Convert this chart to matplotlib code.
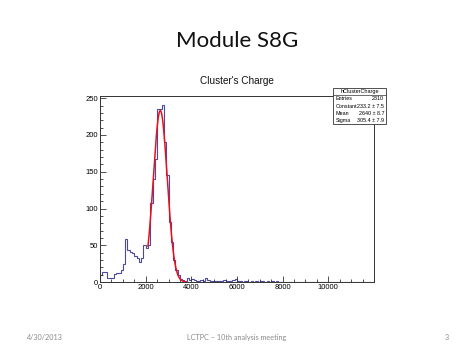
import numpy as np
import matplotlib
matplotlib.use("Agg")
import matplotlib.pyplot as plt
from matplotlib.patches import Rectangle
from matplotlib.ticker import MultipleLocator, FixedFormatter

# histogram: 120 bins of 100 from 0 to 12000 (only non-empty head listed, rest zero)
BIN_WIDTH = 100
N_BINS = 120
COUNTS_HEAD = [
    9, 13, 13, 6, 5, 6, 11, 12, 12, 16,
    25, 58, 43, 41, 40, 36, 32, 27, 32, 50,
    46, 50, 108, 140, 168, 236, 236, 241, 190, 145,
    82, 55, 30, 17, 9, 4, 3, 2, 5, 3,
    4, 3, 1, 2, 3, 2, 5, 3, 2, 1,
    2, 1, 2, 1, 3, 1, 2, 1, 3, 4,
    2, 1, 0, 1, 2, 0, 1, 0, 1, 0,
    1, 1, 0, 1, 0, 1, 0, 1,
]
X_TICKS = [0, 2000, 4000, 6000, 8000, 10000]

# fit results from the stat box
HIST_NAME = "hClusterCharge"
ENTRIES = 2310
CONSTANT, CONSTANT_ERR = 233.2, 7.5
MEAN, MEAN_ERR = 2640, 8.7
SIGMA, SIGMA_ERR = 305.4, 7.9
FIT_RANGE = (2100, 3750)

counts = np.zeros(N_BINS)
counts[:len(COUNTS_HEAD)] = COUNTS_HEAD
edges = np.arange(N_BINS + 1) * BIN_WIDTH

fig = plt.figure(figsize=(4.74, 3.55), dpi=100)
fig.patch.set_facecolor("white")

fig.text(0.5, 0.885, "Module S8G", ha="center", va="center",
         fontsize=16, family="Lato", color="#111111")
fig.text(0.5, 0.772, "Cluster's Charge", ha="center", va="center",
         fontsize=7.2, family="Liberation Sans", color="#111111")

ax = fig.add_axes([0.211, 0.2056, 0.578, 0.524])
ax.stairs(counts, edges, color="#4a4aa0", linewidth=0.8)

xf = np.linspace(FIT_RANGE[0], FIT_RANGE[1], 300)
ax.plot(xf, CONSTANT * np.exp(-0.5 * ((xf - MEAN) / SIGMA) ** 2),
        color="#e8101c", linewidth=1.1)

ax.set_xlim(0, 12000)
ax.set_ylim(0, 1.05 * counts.max())
ax.set_xticks(X_TICKS)
ax.xaxis.set_minor_locator(MultipleLocator(500))
ax.yaxis.set_major_locator(MultipleLocator(50))
ax.yaxis.set_minor_locator(MultipleLocator(10))
ax.tick_params(which="both", direction="in", top=False, right=False,
               labelsize=5.5, pad=1.5, width=0.6, color="#333333")
ax.tick_params(which="major", length=4.5)
ax.tick_params(which="minor", length=2.2)
for lab in ax.get_xticklabels() + ax.get_yticklabels():
    lab.set_family("Liberation Sans")
for s in ax.spines.values():
    s.set_linewidth(0.7)
    s.set_color("#333333")

# stat box
bx0, bx1 = 333 / 474, 386 / 474
by1, by0 = 1 - 88 / 355, 1 - 124 / 355
row = (by1 - by0) / 5
fig.patches.append(Rectangle((bx0, by0), bx1 - bx0, by1 - by0,
                             transform=fig.transFigure, facecolor="white",
                             edgecolor="#333333", linewidth=0.6, zorder=5))
fig.add_artist(plt.Line2D([bx0, bx1], [by1 - row, by1 - row],
                          transform=fig.transFigure, color="#333333",
                          linewidth=0.5, zorder=6))
fig.text((bx0 + bx1) / 2, by1 - row / 2, HIST_NAME, ha="center", va="center",
         fontsize=4.0, family="Liberation Sans", zorder=7)
rows = [
    ("Entries", f"{ENTRIES}"),
    ("Constant", f"{CONSTANT:.1f} \u00b1 {CONSTANT_ERR:.1f}"),
    ("Mean", f"{MEAN} \u00b1 {MEAN_ERR:.1f}"),
    ("Sigma", f"{SIGMA:.1f} \u00b1 {SIGMA_ERR:.1f}"),
]
for i, (name, val) in enumerate(rows):
    yy = by1 - row * (i + 1.5)
    fig.text(bx0 + 0.005, yy, name, ha="left", va="center",
             fontsize=3.9, family="Liberation Sans", zorder=7)
    fig.text(bx1 - 0.004, yy, val, ha="right", va="center",
             fontsize=3.9, family="Liberation Sans", zorder=7)

# slide footer
fig.text(0.095, 0.048, "4/30/2013", ha="center", va="center",
         fontsize=5.2, family="Lato", color="#8a8a8a")
fig.text(0.5, 0.048, "LCTPC \u2013 10th analysis meeting", ha="center",
         va="center", fontsize=5.2, family="Lato", color="#8a8a8a")
fig.text(0.943, 0.048, "3", ha="center", va="center",
         fontsize=5.2, family="Lato", color="#8a8a8a")

fig.savefig("out.png", dpi=100, facecolor="white")
